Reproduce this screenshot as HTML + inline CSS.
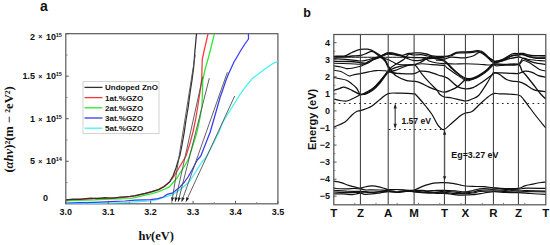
<!DOCTYPE html>
<html><head><meta charset="utf-8"><style>
html,body{margin:0;padding:0;background:#fff;width:550px;height:245px;overflow:hidden}
svg{display:block}
text{font-family:"Liberation Sans",sans-serif;fill:#111}
.lab{font-weight:bold}
.tk{font-weight:bold;font-size:9px}
.lg{font-weight:bold;font-size:8px}
.hs{font-weight:bold;font-size:11.5px}
.an{font-weight:bold}
</style></head><body>
<svg width="550" height="245" viewBox="0 0 550 245">
<text x="40" y="10.8" class="lab" font-size="14">a</text>
<rect x="65.8" y="33.7" width="212.1" height="170.1" fill="none" stroke="#5a5a5a" stroke-width="1.2"/>
<path d="M66.0,203.6 L80.0,203.5 L95.0,203.3 L110.0,203.0 L125.0,202.5 L135.0,201.8 L150.0,201.0 L157.0,199.6 L163.4,197.5 L172.9,194.6 L180.0,189.8 L185.0,185.5 L189.0,182.0 L193.0,176.0 L198.0,168.0 L202.0,162.0 L206.3,157.0 L212.0,146.0 L219.0,132.0 L222.4,123.0 L226.0,117.0 L231.0,109.0 L236.0,101.0 L240.0,94.3 L246.5,85.6 L252.4,78.4 L258.0,74.3 L264.0,69.8 L268.5,66.4 L272.9,63.5 L277.7,61.4" fill="none" stroke="#3ff3f3" stroke-width="1.25" stroke-linejoin="round"/>
<path d="M66.0,203.0 L80.0,202.7 L95.0,202.3 L110.0,201.7 L125.0,201.0 L135.0,200.2 L150.4,199.7 L158.0,198.6 L163.4,197.0 L167.0,194.4 L172.9,192.8 L180.0,186.9 L184.5,182.0 L188.0,177.0 L192.0,170.0 L197.3,160.0 L200.8,156.0 L205.5,144.0 L210.2,132.0 L212.8,123.0 L217.4,107.0 L220.2,97.0 L222.4,91.0 L225.7,81.0 L228.7,73.5 L234.0,62.0 L236.4,58.0 L240.4,51.0 L244.9,44.0 L248.5,39.0 L248.4,33.8" fill="none" stroke="#3a3af0" stroke-width="1.25" stroke-linejoin="round"/>
<path d="M66.0,200.8 L75.0,200.4 L85.0,200.2 L95.0,199.9 L105.0,199.3 L114.0,198.8 L120.0,198.8 L130.0,198.5 L135.0,197.6 L145.0,195.2 L152.0,193.6 L158.7,191.6 L165.0,189.0 L169.3,186.9 L174.0,181.5 L177.0,178.0 L180.0,173.0 L184.0,167.0 L187.7,160.5 L189.5,156.0 L193.0,145.0 L197.0,132.0 L200.0,118.0 L202.0,106.0 L202.4,92.0 L202.8,80.0 L205.4,68.0 L208.6,57.0 L210.4,50.0 L214.4,33.8" fill="none" stroke="#2ee62e" stroke-width="1.25" stroke-linejoin="round"/>
<path d="M66.0,200.1 L73.0,199.5 L80.0,199.1 L86.0,199.2 L91.0,198.8 L97.0,198.2 L105.0,198.5 L110.0,198.2 L114.0,197.9 L120.0,197.6 L125.0,197.2 L130.0,196.6 L135.0,196.0 L145.0,193.6 L152.0,191.6 L158.7,189.4 L164.0,186.4 L169.5,182.0 L174.0,176.0 L178.0,169.5 L181.0,164.5 L183.6,160.0 L186.0,156.0 L190.0,143.0 L193.0,132.0 L195.5,120.0 L198.0,105.0 L200.6,88.0 L201.8,78.0 L202.0,68.0 L202.3,59.0 L204.3,50.0 L208.0,33.8" fill="none" stroke="#f03a3a" stroke-width="1.25" stroke-linejoin="round"/>
<path d="M66.0,199.9 L73.0,199.1 L80.0,199.3 L86.0,198.6 L91.0,198.2 L97.0,198.7 L105.0,197.7 L110.0,198.1 L114.0,198.2 L120.0,197.2 L125.0,196.8 L130.0,196.4 L135.0,195.6 L145.0,193.4 L152.0,191.6 L158.7,189.6 L164.0,186.8 L169.5,182.0 L173.0,176.0 L176.0,168.0 L178.2,160.5 L180.0,155.0 L182.0,145.0 L184.3,132.0 L186.0,120.0 L188.2,107.0 L190.0,93.0 L192.0,80.0 L193.6,68.0 L195.0,50.0 L196.5,33.8" fill="none" stroke="#303030" stroke-width="1.25" stroke-linejoin="round"/>
<path d="M171.9,201.7 L195.2,55" stroke="#505050" stroke-width="0.9"/>
<path d="M171.9,201.7 L174.1,197.8 L171.0,197.3 Z" fill="#222"/>
<path d="M175.2,201.7 L202.8,76.6" stroke="#505050" stroke-width="0.9"/>
<path d="M175.2,201.7 L177.7,197.9 L174.5,197.3 Z" fill="#222"/>
<path d="M178.2,201.7 L209.3,78.2" stroke="#505050" stroke-width="0.9"/>
<path d="M178.2,201.7 L180.8,198.0 L177.7,197.2 Z" fill="#222"/>
<path d="M181.7,201.7 L227.4,72.2" stroke="#505050" stroke-width="0.9"/>
<path d="M181.7,201.7 L184.6,198.3 L181.6,197.2 Z" fill="#222"/>
<path d="M185.9,201.7 L234.7,96" stroke="#505050" stroke-width="0.9"/>
<path d="M185.9,201.7 L189.1,198.6 L186.2,197.2 Z" fill="#222"/>
<line x1="65.8" y1="33.7" x2="68.8" y2="33.7" stroke="#5a5a5a" stroke-width="1"/>
<line x1="65.8" y1="76.2" x2="68.8" y2="76.2" stroke="#5a5a5a" stroke-width="1"/>
<line x1="65.8" y1="118.7" x2="68.8" y2="118.7" stroke="#5a5a5a" stroke-width="1"/>
<line x1="65.8" y1="161.3" x2="68.8" y2="161.3" stroke="#5a5a5a" stroke-width="1"/>
<line x1="65.8" y1="55" x2="67.6" y2="55" stroke="#777" stroke-width="0.8"/>
<line x1="65.8" y1="97.5" x2="67.6" y2="97.5" stroke="#777" stroke-width="0.8"/>
<line x1="65.8" y1="140" x2="67.6" y2="140" stroke="#777" stroke-width="0.8"/>
<line x1="65.8" y1="182.5" x2="67.6" y2="182.5" stroke="#777" stroke-width="0.8"/>
<line x1="65.8" y1="203.8" x2="65.8" y2="200.8" stroke="#5a5a5a" stroke-width="1"/>
<line x1="108.2" y1="203.8" x2="108.2" y2="200.8" stroke="#5a5a5a" stroke-width="1"/>
<line x1="150.6" y1="203.8" x2="150.6" y2="200.8" stroke="#5a5a5a" stroke-width="1"/>
<line x1="193.1" y1="203.8" x2="193.1" y2="200.8" stroke="#5a5a5a" stroke-width="1"/>
<line x1="235.5" y1="203.8" x2="235.5" y2="200.8" stroke="#5a5a5a" stroke-width="1"/>
<line x1="277.9" y1="203.8" x2="277.9" y2="200.8" stroke="#5a5a5a" stroke-width="1"/>
<line x1="87.0" y1="203.8" x2="87.0" y2="202.0" stroke="#777" stroke-width="0.8"/>
<line x1="129.4" y1="203.8" x2="129.4" y2="202.0" stroke="#777" stroke-width="0.8"/>
<line x1="171.8" y1="203.8" x2="171.8" y2="202.0" stroke="#777" stroke-width="0.8"/>
<line x1="214.3" y1="203.8" x2="214.3" y2="202.0" stroke="#777" stroke-width="0.8"/>
<line x1="256.7" y1="203.8" x2="256.7" y2="202.0" stroke="#777" stroke-width="0.8"/>
<text x="65.8" y="214.8" class="tk" text-anchor="middle">3.0</text>
<text x="108.2" y="214.8" class="tk" text-anchor="middle">3.1</text>
<text x="150.6" y="214.8" class="tk" text-anchor="middle">3.2</text>
<text x="193.1" y="214.8" class="tk" text-anchor="middle">3.3</text>
<text x="235.5" y="214.8" class="tk" text-anchor="middle">3.4</text>
<text x="277.9" y="214.8" class="tk" text-anchor="middle">3.5</text>
<text x="34.9" y="39.8" class="tk" text-anchor="end">2</text><text x="38.2" y="39.2" class="tk" style="font-size:7px">×</text><text x="45.9" y="39.8" class="tk">10</text><text x="55.7" y="36.7" class="tk" style="font-size:5.6px">15</text>
<text x="34.9" y="79.4" class="tk" text-anchor="end">1.5</text><text x="38.2" y="78.8" class="tk" style="font-size:7px">×</text><text x="45.9" y="79.4" class="tk">10</text><text x="55.7" y="76.3" class="tk" style="font-size:5.6px">15</text>
<text x="34.9" y="122.1" class="tk" text-anchor="end">1</text><text x="38.2" y="121.5" class="tk" style="font-size:7px">×</text><text x="45.9" y="122.1" class="tk">10</text><text x="55.7" y="119.0" class="tk" style="font-size:5.6px">15</text>
<text x="34.9" y="164.4" class="tk" text-anchor="end">5</text><text x="38.2" y="163.8" class="tk" style="font-size:7px">×</text><text x="45.9" y="164.4" class="tk">10</text><text x="55.7" y="161.3" class="tk" style="font-size:5.6px">14</text>
<text x="45.5" y="201.3" class="tk" text-anchor="middle">0</text>
<rect x="83" y="81.6" width="76" height="52" fill="#fff" stroke="#c8c8c8" stroke-width="0.8"/>
<line x1="84.5" y1="87.4" x2="102.5" y2="87.4" stroke="#303030" stroke-width="1.3"/>
<text x="105" y="90.3" class="lg">Undoped ZnO</text>
<line x1="84.5" y1="97.6" x2="102.5" y2="97.6" stroke="#f03a3a" stroke-width="1.3"/>
<text x="105" y="100.5" class="lg">1at.%GZO</text>
<line x1="84.5" y1="107.8" x2="102.5" y2="107.8" stroke="#2ee62e" stroke-width="1.3"/>
<text x="105" y="110.7" class="lg">2at.%GZO</text>
<line x1="84.5" y1="118.0" x2="102.5" y2="118.0" stroke="#3a3af0" stroke-width="1.3"/>
<text x="105" y="120.9" class="lg">3at.%GZO</text>
<line x1="84.5" y1="128.2" x2="102.5" y2="128.2" stroke="#3ff3f3" stroke-width="1.3"/>
<text x="105" y="131.1" class="lg">5at.%GZO</text>
<text x="138.5" y="240.4" style="font-family:'Liberation Serif',serif;font-weight:bold;font-size:12.5px">h<tspan font-style="italic">ν</tspan>(eV)</text>
<text transform="translate(13.0,172.6) rotate(-90)" style="font-family:'Liberation Serif',serif;font-weight:bold;font-size:12px" textLength="86.4" lengthAdjust="spacingAndGlyphs">(<tspan font-style="italic">αhν</tspan>)²(m − ²eV²)</text>
<text x="303.2" y="16.8" class="lab" font-size="12.5">b</text>
<path d="M333.8,127.0 C335.7,126.2 342.0,124.0 345.0,122.0 C348.0,120.0 350.0,116.8 352.0,115.0 C354.0,113.2 355.6,111.9 357.0,111.2 C358.4,110.5 358.9,111.0 360.4,110.6 C361.9,110.2 364.1,109.6 366.0,108.8 C367.9,108.0 369.7,107.5 372.0,106.0 C374.3,104.5 377.3,101.6 380.0,99.5 C382.7,97.4 384.9,94.6 388.2,93.6 C391.5,92.5 395.7,93.2 400.0,93.2 C404.3,93.2 411.4,93.5 414.1,93.8 C416.8,94.1 414.9,94.0 416.0,95.0 C417.1,96.0 418.9,98.1 420.6,100.0 C422.3,101.9 424.1,104.1 426.0,106.5 C427.9,108.9 430.1,111.5 432.0,114.5 C433.9,117.5 436.1,122.3 437.6,124.6 C439.1,126.9 439.9,127.6 441.0,128.4 C442.1,129.2 442.6,130.3 444.4,129.4 C446.2,128.5 449.4,125.2 452.0,123.0 C454.6,120.8 457.8,117.7 460.0,116.0 C462.2,114.3 463.4,113.7 465.4,113.0 C467.4,112.3 469.6,113.1 472.0,111.6 C474.4,110.1 477.3,106.4 480.0,104.0 C482.7,101.6 485.8,98.7 488.0,97.0 C490.2,95.3 491.4,94.1 493.4,93.6 C495.4,93.1 495.8,93.6 500.0,93.8 C504.2,94.0 514.4,94.0 518.4,95.0 C522.4,96.0 522.1,97.8 524.0,100.0 C525.9,102.2 528.0,105.3 530.0,108.0 C532.0,110.7 533.4,112.7 536.0,116.0 C538.6,119.3 544.2,126.0 545.8,128.0" fill="none" stroke="#111" stroke-width="1.2"/>
<path d="M333.8,56.3 C335.7,56.2 342.0,56.4 345.0,55.8 C348.0,55.2 349.4,53.6 352.0,52.5 C354.6,51.4 357.8,49.9 360.4,49.4 C363.0,48.9 365.6,49.1 367.5,49.2 C369.4,49.4 370.2,49.6 371.9,50.3 C373.5,51.0 375.8,52.6 377.4,53.6 C379.0,54.6 380.5,55.4 381.8,56.5 C383.1,57.6 384.3,58.9 385.4,60.4 C386.5,61.9 387.1,64.0 388.2,65.8 C389.3,67.6 390.7,69.5 392.0,71.2 C393.3,72.9 393.7,74.3 396.0,75.8 C398.3,77.3 403.0,79.5 406.0,80.4 C409.0,81.3 411.7,80.9 414.1,81.3 C416.5,81.7 417.8,81.8 420.3,82.8 C422.8,83.8 426.1,85.9 429.0,87.2 C431.9,88.5 435.4,89.7 438.0,90.5 C440.6,91.3 442.2,92.3 444.4,92.2 C446.6,92.1 448.8,90.9 451.0,90.0 C453.2,89.1 455.2,88.3 457.6,86.6 C460.0,84.9 463.3,80.8 465.4,79.6 C467.5,78.4 468.2,79.9 470.0,79.5 C471.8,79.1 474.4,78.2 476.4,77.3 C478.4,76.4 480.2,75.2 482.0,74.0 C483.8,72.8 485.5,71.6 487.4,70.0 C489.3,68.4 490.5,65.1 493.4,64.2 C496.3,63.3 500.8,64.4 505.0,64.4 C509.2,64.4 515.6,63.3 518.4,64.4 C521.2,65.5 520.9,69.3 522.0,71.0 C523.1,72.7 523.3,72.1 525.3,74.5 C527.3,76.9 531.5,82.2 534.1,85.5 C536.7,88.8 538.8,91.8 540.7,94.0 C542.7,96.2 544.9,98.2 545.8,99.0" fill="none" stroke="#111" stroke-width="1.3"/>
<path d="M333.8,56.8 C335.7,56.8 342.0,56.9 345.0,56.8 C348.0,56.7 349.4,56.2 352.0,56.0 C354.6,55.8 358.0,56.0 360.4,55.5 C362.8,55.0 364.7,54.0 366.6,53.3 C368.5,52.6 370.2,51.1 372.0,51.3 C373.8,51.5 375.8,53.6 377.4,54.7 C379.0,55.8 380.5,56.5 381.8,57.7 C383.1,58.9 384.3,60.1 385.4,61.7 C386.5,63.3 387.2,65.4 388.2,67.2 C389.2,69.0 389.4,71.3 391.6,72.4 C393.8,73.5 397.8,73.4 401.5,73.6 C405.2,73.8 411.0,74.0 414.1,73.6 C417.2,73.2 417.8,71.5 420.3,71.2 C422.8,70.9 426.1,71.2 429.0,71.8 C431.9,72.4 435.4,74.2 438.0,75.0 C440.6,75.8 442.6,76.0 444.4,76.7 C446.2,77.4 446.6,77.3 448.8,79.0 C451.0,80.7 454.8,85.0 457.6,86.6 C460.4,88.2 462.8,88.6 465.4,88.8 C468.0,89.0 470.2,88.8 473.0,87.7 C475.8,86.6 478.9,84.3 482.0,82.2 C485.1,80.1 489.9,76.5 491.8,75.0 C493.7,73.5 491.9,73.3 493.4,73.0 C494.9,72.7 497.9,72.8 501.0,72.9 C504.1,73.0 509.1,73.3 512.0,73.4 C514.9,73.5 516.2,73.8 518.4,73.4 C520.6,73.0 523.0,71.4 525.3,71.2 C527.6,71.0 529.8,71.6 532.0,72.3 C534.2,73.0 536.2,74.8 538.5,75.6 C540.8,76.4 544.6,77.0 545.8,77.3" fill="none" stroke="#111" stroke-width="1.3"/>
<path d="M333.8,57.2 C342.9,57.2 374.8,57.3 388.2,57.3 C401.6,57.3 404.7,57.3 414.1,57.4 C423.5,57.5 439.3,57.7 444.4,57.7" fill="none" stroke="#111" stroke-width="1.0"/>
<path d="M333.8,58.6 C336.5,58.8 345.6,59.4 350.0,59.8 C354.4,60.2 357.6,60.9 360.4,61.0 C363.2,61.1 364.3,60.7 366.6,60.2 C368.9,59.7 372.2,58.4 374.3,57.8 C376.4,57.2 378.2,56.9 379.4,56.5 C380.6,56.1 380.6,56.1 381.6,55.6 C382.6,55.1 384.3,54.1 385.4,53.6 C386.5,53.1 386.4,52.6 388.2,52.6 C390.0,52.6 393.8,53.1 396.4,53.8 C399.0,54.4 402.1,55.7 404.0,56.5 C405.9,57.3 406.3,58.1 408.0,58.8 C409.7,59.5 412.1,60.4 414.1,60.6 C416.1,60.9 418.0,60.6 420.0,60.3 C422.0,60.0 424.0,59.3 426.0,59.0 C428.0,58.7 430.0,58.4 432.0,58.3 C434.0,58.2 435.9,58.4 438.0,58.5 C440.1,58.6 442.2,59.4 444.4,59.2 C446.6,59.0 448.1,57.4 451.0,57.2 C453.9,57.0 459.6,57.7 462.0,57.8 C464.4,57.9 463.6,58.1 465.4,57.8 C467.2,57.5 471.2,56.6 473.0,56.0 C474.8,55.4 475.2,54.6 476.4,54.0 C477.6,53.4 478.4,52.2 480.0,52.5 C481.6,52.8 483.8,54.7 486.0,56.0 C488.2,57.3 491.6,59.4 493.4,60.4 C495.2,61.4 494.4,62.1 496.6,61.8 C498.8,61.4 503.9,59.3 506.5,58.3 C509.1,57.3 510.0,56.5 512.0,56.0 C514.0,55.5 516.6,55.2 518.4,55.0 C520.2,54.8 521.3,54.4 523.0,54.6 C524.7,54.9 526.4,55.9 528.6,56.5 C530.8,57.1 533.4,58.0 536.3,58.3 C539.2,58.6 544.2,58.3 545.8,58.3" fill="none" stroke="#111" stroke-width="1.2"/>
<path d="M333.8,61.3 C336.5,61.3 345.6,61.3 350.0,61.5 C354.4,61.7 357.9,62.3 360.4,62.6 C362.8,62.9 363.4,63.3 364.7,63.2 C366.0,63.1 366.5,62.5 368.0,61.8 C369.5,61.1 371.6,59.8 373.5,59.0 C375.4,58.2 378.0,57.4 379.4,56.9 C380.8,56.4 380.6,56.5 381.6,56.0 C382.6,55.5 384.3,54.6 385.4,54.2 C386.5,53.8 387.1,53.5 388.2,53.4 C389.3,53.3 390.6,53.4 392.0,53.6 C393.4,53.8 394.7,54.3 396.4,54.6 C398.1,54.9 400.0,55.5 402.0,55.3 C404.0,55.1 406.5,53.9 408.5,53.5 C410.5,53.1 412.1,53.1 414.1,53.0 C416.1,52.9 418.4,52.7 420.5,52.9 C422.6,53.1 424.4,53.5 426.4,54.0 C428.4,54.5 429.3,55.4 432.3,55.8 C435.3,56.2 441.3,56.4 444.4,56.3 C447.5,56.2 449.0,55.7 451.0,55.0 C453.0,54.3 454.7,52.8 456.5,52.3 C458.3,51.8 460.5,51.9 462.0,51.9 C463.5,51.9 463.6,52.1 465.4,52.0 C467.2,51.9 471.0,51.7 473.0,51.5 C475.0,51.3 476.0,50.6 477.5,50.6 C479.0,50.6 480.5,51.0 482.0,51.7 C483.5,52.4 484.9,53.7 486.3,55.0 C487.8,56.3 489.5,58.4 490.7,59.4 C491.9,60.4 492.4,60.9 493.4,61.2 C494.4,61.5 495.0,61.3 496.6,61.0 C498.2,60.7 500.4,60.6 503.0,59.4 C505.6,58.2 509.4,55.0 512.0,54.0 C514.6,53.0 516.6,53.8 518.4,53.7 C520.2,53.6 521.3,53.2 523.0,53.4 C524.7,53.6 526.8,54.6 528.6,55.0 C530.4,55.4 531.1,55.5 534.0,55.6 C536.9,55.7 543.8,55.6 545.8,55.6" fill="none" stroke="#111" stroke-width="1.3"/>
<path d="M333.8,63.2 C336.5,63.3 345.6,63.6 350.0,63.8 C354.4,64.0 357.9,64.3 360.4,64.3 C362.8,64.3 363.3,64.2 364.7,63.8 C366.1,63.4 367.5,62.7 369.0,62.0 C370.5,61.3 371.8,60.2 373.5,59.4 C375.2,58.6 377.9,57.7 379.4,57.2 C380.9,56.7 381.5,56.6 382.5,56.2 C383.5,55.8 384.4,55.2 385.4,54.9 C386.3,54.6 386.4,54.2 388.2,54.2 C390.0,54.2 394.1,54.8 396.4,55.2 C398.7,55.6 400.1,56.1 402.0,56.4 C403.9,56.7 406.0,57.0 408.0,57.2 C410.0,57.4 411.9,57.5 414.1,57.6 C416.3,57.7 419.0,57.5 421.0,57.7 C423.0,57.9 424.7,58.5 426.0,59.0 C427.3,59.5 427.4,60.3 429.0,60.9 C430.6,61.5 433.1,62.2 435.7,62.7 C438.3,63.2 442.9,63.5 444.4,63.6" fill="none" stroke="#111" stroke-width="1.1"/>
<path d="M333.8,65.9 C335.0,66.1 338.9,66.5 341.0,67.0 C343.1,67.5 344.7,68.4 346.5,68.6 C348.3,68.8 349.7,68.6 352.0,68.2 C354.3,67.8 358.3,66.9 360.4,66.3 C362.5,65.7 363.3,65.0 364.7,64.4 C366.1,63.8 367.5,63.3 369.0,62.5 C370.5,61.7 371.8,60.6 373.5,59.8 C375.2,59.0 377.8,57.8 379.4,57.6 C381.0,57.4 381.6,58.1 383.0,58.4 C384.4,58.7 386.1,59.1 387.6,59.6 C389.1,60.1 390.5,60.8 392.0,61.5 C393.5,62.2 395.1,63.5 396.8,64.0 C398.5,64.5 400.0,64.7 402.0,64.8 C404.0,64.9 406.7,64.8 408.7,64.8 C410.7,64.8 411.9,64.8 414.1,64.6 C416.3,64.4 419.0,63.8 422.0,63.8 C425.0,63.8 428.3,64.3 432.0,64.6 C435.7,64.9 442.0,65.0 444.4,65.5 C446.8,66.0 444.8,66.2 446.6,67.5 C448.4,68.8 451.9,71.4 455.0,73.5 C458.1,75.6 462.9,79.2 465.4,80.3 C467.9,81.4 468.2,80.7 470.0,80.3 C471.8,79.9 474.4,79.0 476.4,78.1 C478.4,77.2 480.2,76.0 482.0,74.8 C483.8,73.6 485.5,72.4 487.4,70.8 C489.3,69.2 491.9,65.8 493.4,65.0 C494.9,64.2 494.5,66.0 496.6,66.0 C498.7,66.0 502.4,65.3 506.0,65.0 C509.6,64.7 515.6,65.1 518.4,64.0 C521.2,62.9 521.3,59.0 523.0,58.3 C524.7,57.5 526.4,59.2 528.6,59.5 C530.8,59.8 533.1,60.0 536.0,60.3 C538.9,60.5 544.2,60.9 545.8,61.0" fill="none" stroke="#111" stroke-width="1.1"/>
<path d="M333.8,70.3 C335.0,70.5 338.5,70.5 341.0,71.4 C343.5,72.3 346.9,75.2 348.7,75.8 C350.5,76.4 350.1,75.6 352.0,75.2 C353.9,74.8 357.6,74.1 360.4,73.6 C363.2,73.0 366.0,72.4 368.6,71.9 C371.2,71.4 373.6,70.8 376.3,70.6 C379.0,70.4 383.0,70.7 385.0,70.8 C387.0,70.9 387.0,71.1 388.2,71.4 C389.4,71.7 390.5,72.3 392.0,72.6 C393.5,72.9 396.2,73.2 397.0,73.3" fill="none" stroke="#111" stroke-width="1.1"/>
<path d="M333.8,77.4 C334.6,77.6 336.7,78.0 338.8,78.5 C340.9,79.0 344.3,79.3 346.5,80.2 C348.7,81.1 350.3,82.7 352.0,84.0 C353.7,85.3 355.1,86.3 356.5,88.0 C357.9,89.7 358.8,93.6 360.4,94.3 C362.0,95.0 363.9,93.4 366.0,92.4 C368.1,91.4 370.7,90.2 373.0,88.3 C375.3,86.4 377.5,84.0 380.0,81.0 C382.5,78.0 386.6,72.7 388.2,70.6 C389.8,68.5 388.3,69.7 389.8,68.5 C391.3,67.3 394.6,65.0 397.0,63.5 C399.4,62.0 402.1,60.8 404.0,59.3 C405.9,57.8 406.8,55.1 408.5,54.4 C410.2,53.7 412.0,55.0 414.1,55.0 C416.2,55.0 418.7,54.4 421.0,54.6 C423.3,54.8 425.6,55.6 428.0,56.0 C430.4,56.4 433.0,56.9 435.7,57.2 C438.4,57.5 442.9,57.5 444.4,57.6" fill="none" stroke="#111" stroke-width="1.2"/>
<path d="M333.8,90.3 C334.8,90.0 338.3,88.8 340.0,88.3 C341.7,87.8 342.0,86.9 344.0,87.2 C346.0,87.5 349.3,89.1 352.0,90.3 C354.7,91.5 358.1,94.0 360.4,94.5 C362.7,95.0 363.9,94.1 366.0,93.2 C368.1,92.3 370.7,91.1 373.0,89.2 C375.3,87.3 377.5,85.0 380.0,82.0 C382.5,79.0 386.0,73.7 388.2,71.5 C390.4,69.3 391.4,69.5 393.0,68.7 C394.6,67.9 396.2,67.3 398.0,66.8 C399.8,66.3 401.3,65.9 404.0,65.6 C406.7,65.2 411.4,65.2 414.1,64.7 C416.8,64.2 418.4,63.2 420.0,62.5 C421.6,61.8 422.5,61.1 424.0,60.4 C425.5,59.6 426.8,58.3 428.8,58.0 C430.8,57.7 433.4,58.4 436.0,58.8 C438.6,59.2 441.7,59.0 444.4,60.5 C447.1,62.0 449.4,65.6 452.0,68.0 C454.6,70.4 457.8,73.3 460.0,75.0 C462.2,76.7 463.7,77.4 465.4,78.0 C467.1,78.6 468.2,79.0 470.0,78.7 C471.8,78.5 474.4,77.4 476.4,76.5 C478.4,75.6 480.2,74.4 482.0,73.2 C483.8,72.0 485.5,70.8 487.4,69.2 C489.3,67.6 491.9,64.5 493.4,63.4 C494.9,62.3 494.4,63.1 496.6,62.5 C498.8,61.9 502.9,60.4 506.5,59.5 C510.1,58.6 515.6,57.2 518.4,57.0 C521.1,56.8 520.4,57.3 523.0,58.3 C525.6,59.2 530.2,61.7 534.0,62.7 C537.8,63.7 543.8,64.1 545.8,64.4" fill="none" stroke="#111" stroke-width="1.3"/>
<path d="M333.8,99.0 C334.8,99.2 337.8,100.2 340.0,100.5 C342.2,100.8 344.5,101.5 347.0,101.0 C349.5,100.5 352.8,98.5 355.0,97.5 C357.2,96.5 358.6,95.4 360.4,94.8 C362.2,94.2 363.9,94.7 366.0,93.9 C368.1,93.1 370.7,91.9 373.0,90.1 C375.3,88.3 377.5,85.9 380.0,83.0 C382.5,80.1 385.6,74.7 388.2,72.6 C390.8,70.5 392.3,71.5 395.3,70.4 C398.3,69.3 403.2,67.0 406.3,66.0 C409.4,65.0 412.2,64.3 414.1,64.7 C416.1,65.1 416.8,67.0 418.0,68.5 C419.2,70.0 419.6,71.1 421.4,73.4 C423.2,75.7 426.4,79.4 429.0,82.2 C431.6,85.0 435.0,88.0 436.8,90.0 C438.6,92.0 438.7,93.3 440.0,94.5 C441.3,95.7 442.4,96.4 444.4,97.0 C446.4,97.6 448.5,97.3 452.0,98.0 C455.5,98.7 462.1,100.8 465.4,101.0 C468.7,101.2 469.8,99.9 472.0,99.0 C474.2,98.1 476.2,97.9 478.6,95.5 C481.0,93.1 483.8,88.1 486.3,84.4 C488.8,80.7 491.3,75.1 493.4,73.4 C495.5,71.7 496.6,73.0 498.8,74.0 C501.0,75.0 504.3,78.3 506.5,79.5 C508.7,80.7 510.0,80.7 512.0,81.1 C514.0,81.5 516.2,81.2 518.4,81.7 C520.6,82.2 522.7,83.0 525.3,84.4 C527.9,85.8 530.7,88.7 534.1,89.9 C537.5,91.1 543.8,91.3 545.8,91.6" fill="none" stroke="#111" stroke-width="1.2"/>
<path d="M444.4,63.5 C446.2,63.6 451.5,64.0 455.0,64.0 C458.5,64.0 461.4,63.8 465.4,63.8 C469.4,63.8 475.3,64.0 479.0,64.2 C482.7,64.4 485.0,64.9 487.4,65.0 C489.8,65.1 490.5,64.8 493.4,64.8 C496.3,64.8 500.8,64.9 505.0,64.9 C509.2,64.9 515.4,65.5 518.4,64.8 C521.4,64.1 521.1,60.8 523.0,60.5 C524.9,60.2 527.2,61.5 530.0,63.0 C532.8,64.5 537.0,68.1 539.6,69.4 C542.2,70.7 544.8,70.7 545.8,71.0" fill="none" stroke="#111" stroke-width="1.1"/>
<path d="M444.4,57.0 C445.5,56.8 449.0,56.4 451.0,55.8 C453.0,55.2 454.7,53.7 456.5,53.2 C458.3,52.7 460.5,52.8 462.0,52.8 C463.5,52.8 463.6,53.0 465.4,52.9 C467.2,52.8 471.0,52.6 473.0,52.4 C475.0,52.2 476.0,51.5 477.5,51.6 C479.0,51.7 480.5,52.0 482.0,52.8 C483.5,53.6 484.9,55.0 486.3,56.3 C487.8,57.6 489.5,59.8 490.7,60.8 C491.9,61.8 492.4,62.2 493.4,62.4 C494.4,62.6 495.0,62.3 496.6,62.0 C498.2,61.7 500.4,61.7 503.0,60.6 C505.6,59.5 509.4,56.6 512.0,55.6 C514.6,54.6 516.6,55.0 518.4,54.8 C520.2,54.6 521.3,54.3 523.0,54.6 C524.7,54.9 526.8,56.2 528.6,56.6 C530.4,57.0 531.1,57.1 534.0,57.2 C536.9,57.3 543.8,57.2 545.8,57.2" fill="none" stroke="#111" stroke-width="1.2"/>
<path d="M436.0,60.2 C437.4,60.4 441.7,59.8 444.4,61.3 C447.1,62.8 449.4,66.5 452.0,68.9 C454.6,71.3 457.8,74.2 460.0,75.9 C462.2,77.6 463.7,78.3 465.4,78.9 C467.1,79.5 468.2,79.8 470.0,79.5 C471.8,79.2 475.3,77.7 476.4,77.3" fill="none" stroke="#111" stroke-width="1.1"/>
<path d="M333.8,181.3 C335.0,181.5 338.5,181.9 341.0,182.6 C343.5,183.3 346.3,184.6 348.7,185.4 C351.1,186.2 353.4,186.8 355.4,187.2 C357.3,187.6 358.8,188.1 360.4,188.1 C361.9,188.1 362.8,187.4 364.7,187.0 C366.6,186.6 370.1,186.0 372.0,185.9 C373.9,185.8 374.5,186.0 376.3,186.3 C378.1,186.7 381.0,187.4 383.0,188.0 C385.0,188.6 385.9,189.3 388.2,189.6 C390.5,189.8 394.0,189.4 397.0,189.5 C400.0,189.6 403.5,190.2 406.4,190.3 C409.2,190.4 411.4,190.7 414.1,190.0 C416.8,189.3 419.3,187.6 422.5,186.4 C425.7,185.2 429.9,183.7 433.5,183.1 C437.1,182.5 440.8,182.5 444.4,182.6 C448.0,182.7 452.3,183.4 454.9,183.8 C457.5,184.2 458.2,184.5 460.0,184.9 C461.8,185.3 463.2,185.8 465.4,186.0 C467.6,186.2 469.9,186.3 473.0,186.4 C476.1,186.5 480.6,186.5 484.0,186.7 C487.4,186.9 489.9,187.5 493.4,187.8 C496.9,188.1 500.8,188.5 505.0,188.6 C509.2,188.7 515.1,188.9 518.4,188.4 C521.7,187.9 522.3,186.5 524.7,185.8 C527.1,185.1 530.2,184.7 532.9,184.1 C535.6,183.5 538.9,182.8 541.0,182.5 C543.1,182.2 545.0,182.2 545.8,182.1" fill="none" stroke="#111" stroke-width="1.2"/>
<path d="M333.8,188.5 C335.9,188.6 343.1,188.8 346.5,188.8 C349.9,188.8 351.7,188.5 354.0,188.5 C356.3,188.5 358.6,188.7 360.4,188.9 C362.2,189.1 362.8,189.7 364.7,189.9 C366.6,190.1 369.4,189.9 372.0,189.9 C374.6,189.9 377.3,189.9 380.0,190.0 C382.7,190.1 385.4,190.4 388.2,190.3 C391.0,190.2 394.0,189.5 397.0,189.5 C400.0,189.5 403.5,190.2 406.4,190.4 C409.2,190.6 411.5,190.6 414.1,190.6 C416.7,190.6 419.7,190.3 422.0,190.3 C424.3,190.3 425.8,190.8 428.0,190.8 C430.2,190.8 432.3,190.6 435.0,190.5 C437.7,190.4 441.1,190.2 444.4,190.3 C447.7,190.4 451.5,190.6 455.0,190.8 C458.5,191.1 462.4,191.9 465.4,191.8 C468.4,191.8 470.6,191.0 473.0,190.5 C475.4,190.0 476.6,189.3 480.0,188.9 C483.4,188.5 489.2,187.9 493.4,188.0 C497.6,188.1 500.8,189.1 505.0,189.3 C509.2,189.5 514.9,189.4 518.4,189.2 C521.9,189.0 521.7,188.3 526.3,188.2 C530.9,188.1 542.5,188.4 545.8,188.4" fill="none" stroke="#111" stroke-width="1.2"/>
<path d="M333.8,190.5 C335.9,190.6 342.1,191.0 346.5,191.2 C350.9,191.3 357.3,191.3 360.4,191.4 C363.5,191.5 363.1,191.5 365.0,191.6 C366.9,191.7 369.5,192.1 372.0,192.1 C374.5,192.1 377.3,191.7 380.0,191.5 C382.7,191.3 385.4,190.7 388.2,190.8 C391.0,190.9 394.0,192.0 397.0,192.1 C400.0,192.2 403.5,191.3 406.4,191.2 C409.2,191.0 411.5,191.1 414.1,191.2 C416.7,191.3 419.7,191.9 422.0,192.0 C424.3,192.1 425.7,191.4 428.0,191.5 C430.3,191.6 433.3,192.7 436.0,192.6 C438.7,192.5 441.2,191.3 444.4,191.2 C447.6,191.1 451.5,191.9 455.0,192.2 C458.5,192.5 462.4,192.9 465.4,192.9 C468.4,192.9 470.6,192.4 473.0,192.0 C475.4,191.6 476.6,190.8 480.0,190.4 C483.4,190.0 489.2,189.5 493.4,189.5 C497.6,189.5 500.8,190.3 505.0,190.5 C509.2,190.7 514.9,190.8 518.4,190.8 C521.9,190.8 521.7,190.6 526.3,190.7 C530.9,190.8 542.5,191.1 545.8,191.2" fill="none" stroke="#111" stroke-width="1.2"/>
<path d="M333.8,192.0 C335.9,192.1 342.1,192.5 346.5,192.6 C350.9,192.7 357.3,192.4 360.4,192.3 C363.5,192.2 363.1,192.2 365.0,192.2 C366.9,192.2 368.1,192.6 372.0,192.5 C375.9,192.4 384.0,191.4 388.2,191.4 C392.4,191.4 394.0,192.3 397.0,192.3 C400.0,192.3 403.5,191.4 406.4,191.3 C409.2,191.2 411.0,191.4 414.1,191.6 C417.2,191.8 421.4,192.3 425.0,192.4 C428.6,192.5 432.8,192.2 436.0,192.2 C439.2,192.2 441.2,192.1 444.4,192.3 C447.6,192.5 451.5,193.4 455.0,193.6 C458.5,193.8 462.4,193.7 465.4,193.6 C468.4,193.5 470.6,193.3 473.0,193.0 C475.4,192.7 476.6,191.9 480.0,191.5 C483.4,191.1 489.2,190.8 493.4,190.8 C497.6,190.8 500.8,191.4 505.0,191.6 C509.2,191.8 514.9,192.0 518.4,192.0 C521.9,192.0 521.7,191.7 526.3,191.7 C530.9,191.7 542.5,191.8 545.8,191.8" fill="none" stroke="#111" stroke-width="1.2"/>
<path d="M333.8,193.9 C335.3,193.9 339.9,193.8 343.0,193.9 C346.1,194.0 350.2,194.6 352.4,194.6 C354.6,194.6 354.7,194.2 356.0,194.0 C357.3,193.8 358.9,193.1 360.4,193.2 C361.8,193.2 362.8,194.2 364.7,194.3 C366.6,194.4 369.4,194.2 372.0,193.9 C374.6,193.7 377.3,193.2 380.0,192.8 C382.7,192.4 385.4,191.7 388.2,191.6 C391.0,191.5 394.0,192.1 397.0,192.0 C400.0,191.9 403.5,191.0 406.4,191.0 C409.2,191.0 411.0,191.5 414.1,191.8 C417.2,192.1 421.4,192.6 425.0,192.8 C428.6,193.1 432.8,193.2 436.0,193.3 C439.2,193.4 442.1,193.2 444.4,193.3 C446.7,193.4 447.6,193.7 450.0,194.0 C452.4,194.3 455.9,194.9 458.5,195.1 C461.1,195.3 463.0,195.1 465.4,195.0 C467.8,194.9 470.5,194.9 473.0,194.7 C475.5,194.5 477.0,194.1 480.4,193.6 C483.8,193.1 489.3,191.9 493.4,191.7 C497.5,191.5 500.8,192.2 505.0,192.4 C509.2,192.6 514.2,192.5 518.4,192.7 C522.6,192.9 525.8,193.2 530.4,193.5 C535.0,193.8 543.2,194.2 545.8,194.3" fill="none" stroke="#111" stroke-width="1.2"/>
<line x1="360.4" y1="34.5" x2="360.4" y2="204.8" stroke="#333" stroke-width="1"/>
<line x1="388.2" y1="34.5" x2="388.2" y2="204.8" stroke="#333" stroke-width="1"/>
<line x1="414.1" y1="34.5" x2="414.1" y2="204.8" stroke="#333" stroke-width="1"/>
<line x1="444.4" y1="34.5" x2="444.4" y2="204.8" stroke="#333" stroke-width="1"/>
<line x1="465.4" y1="34.5" x2="465.4" y2="204.8" stroke="#333" stroke-width="1"/>
<line x1="493.4" y1="34.5" x2="493.4" y2="204.8" stroke="#333" stroke-width="1"/>
<line x1="518.4" y1="34.5" x2="518.4" y2="204.8" stroke="#333" stroke-width="1"/>
<line x1="333.6" y1="103.4" x2="545.8" y2="103.4" stroke="#2a2a2a" stroke-width="1.05" stroke-dasharray="1.7,3.4"/>
<line x1="388.8" y1="129.4" x2="443" y2="129.4" stroke="#2a2a2a" stroke-width="1.05" stroke-dasharray="1.7,3.4"/>
<rect x="333.8" y="34.5" width="212.0" height="170.3" fill="none" stroke="#505050" stroke-width="1.2"/>
<line x1="333.8" y1="196.2" x2="336.6" y2="196.2" stroke="#444" stroke-width="0.9"/>
<text x="330" y="199.1" class="tk" text-anchor="end">−5</text>
<line x1="333.8" y1="179.2" x2="336.6" y2="179.2" stroke="#444" stroke-width="0.9"/>
<text x="330" y="182.1" class="tk" text-anchor="end">−4</text>
<line x1="333.8" y1="162.1" x2="336.6" y2="162.1" stroke="#444" stroke-width="0.9"/>
<text x="330" y="165.0" class="tk" text-anchor="end">−3</text>
<line x1="333.8" y1="145.1" x2="336.6" y2="145.1" stroke="#444" stroke-width="0.9"/>
<text x="330" y="148.0" class="tk" text-anchor="end">−2</text>
<line x1="333.8" y1="128.0" x2="336.6" y2="128.0" stroke="#444" stroke-width="0.9"/>
<text x="330" y="130.9" class="tk" text-anchor="end">−1</text>
<line x1="333.8" y1="110.9" x2="336.6" y2="110.9" stroke="#444" stroke-width="0.9"/>
<text x="330" y="113.8" class="tk" text-anchor="end">0</text>
<line x1="333.8" y1="93.9" x2="336.6" y2="93.9" stroke="#444" stroke-width="0.9"/>
<text x="330" y="96.8" class="tk" text-anchor="end">1</text>
<line x1="333.8" y1="76.8" x2="336.6" y2="76.8" stroke="#444" stroke-width="0.9"/>
<text x="330" y="79.7" class="tk" text-anchor="end">2</text>
<line x1="333.8" y1="59.8" x2="336.6" y2="59.8" stroke="#444" stroke-width="0.9"/>
<text x="330" y="62.7" class="tk" text-anchor="end">3</text>
<line x1="333.8" y1="42.7" x2="336.6" y2="42.7" stroke="#444" stroke-width="0.9"/>
<text x="330" y="45.6" class="tk" text-anchor="end">4</text>
<line x1="333.8" y1="187.7" x2="335.40000000000003" y2="187.7" stroke="#666" stroke-width="0.8"/>
<line x1="333.8" y1="170.6" x2="335.40000000000003" y2="170.6" stroke="#666" stroke-width="0.8"/>
<line x1="333.8" y1="153.6" x2="335.40000000000003" y2="153.6" stroke="#666" stroke-width="0.8"/>
<line x1="333.8" y1="136.5" x2="335.40000000000003" y2="136.5" stroke="#666" stroke-width="0.8"/>
<line x1="333.8" y1="119.5" x2="335.40000000000003" y2="119.5" stroke="#666" stroke-width="0.8"/>
<line x1="333.8" y1="102.4" x2="335.40000000000003" y2="102.4" stroke="#666" stroke-width="0.8"/>
<line x1="333.8" y1="85.3" x2="335.40000000000003" y2="85.3" stroke="#666" stroke-width="0.8"/>
<line x1="333.8" y1="68.3" x2="335.40000000000003" y2="68.3" stroke="#666" stroke-width="0.8"/>
<line x1="333.8" y1="51.2" x2="335.40000000000003" y2="51.2" stroke="#666" stroke-width="0.8"/>
<line x1="354.8" y1="204.8" x2="354.8" y2="202.8" stroke="#666" stroke-width="0.8"/>
<line x1="376.0" y1="204.8" x2="376.0" y2="202.8" stroke="#666" stroke-width="0.8"/>
<line x1="397.2" y1="204.8" x2="397.2" y2="202.8" stroke="#666" stroke-width="0.8"/>
<line x1="418.5" y1="204.8" x2="418.5" y2="202.8" stroke="#666" stroke-width="0.8"/>
<line x1="439.8" y1="204.8" x2="439.8" y2="202.8" stroke="#666" stroke-width="0.8"/>
<line x1="461.0" y1="204.8" x2="461.0" y2="202.8" stroke="#666" stroke-width="0.8"/>
<line x1="482.2" y1="204.8" x2="482.2" y2="202.8" stroke="#666" stroke-width="0.8"/>
<line x1="503.5" y1="204.8" x2="503.5" y2="202.8" stroke="#666" stroke-width="0.8"/>
<line x1="524.8" y1="204.8" x2="524.8" y2="202.8" stroke="#666" stroke-width="0.8"/>
<text x="333.8" y="217.4" class="hs" text-anchor="middle">T</text>
<text x="360.4" y="217.4" class="hs" text-anchor="middle">Z</text>
<text x="388.2" y="217.4" class="hs" text-anchor="middle">A</text>
<text x="414.1" y="217.4" class="hs" text-anchor="middle">M</text>
<text x="444.4" y="217.4" class="hs" text-anchor="middle">T</text>
<text x="465.4" y="217.4" class="hs" text-anchor="middle">X</text>
<text x="493.4" y="217.4" class="hs" text-anchor="middle">R</text>
<text x="518.4" y="217.4" class="hs" text-anchor="middle">Z</text>
<text x="545.8" y="217.4" class="hs" text-anchor="middle">T</text>
<text transform="translate(315.8,150) rotate(-90)" class="hs" style="font-size:11px">Energy (eV)</text>
<path d="M395.2,106 L395.2,126.5" stroke="#555" stroke-width="1.3"/>
<path d="M395.2,103.3 L393.6,108.6 L396.8,108.6 Z M395.2,129 L393.6,123.7 L396.8,123.7 Z" fill="#222"/>
<text x="401.4" y="124.4" class="an" style="font-size:8.6px">1.57 eV</text>
<path d="M444.6,133 L444.6,178" stroke="#555" stroke-width="1.3"/>
<path d="M444.6,129.6 L443.0,134.8 L446.2,134.8 Z M444.6,180.7 L443.0,176.2 L446.2,176.2 Z" fill="#222"/>
<text x="451.3" y="157.6" class="an" style="font-size:8.9px">Eg=3.27 eV</text>
</svg>
</body></html>
